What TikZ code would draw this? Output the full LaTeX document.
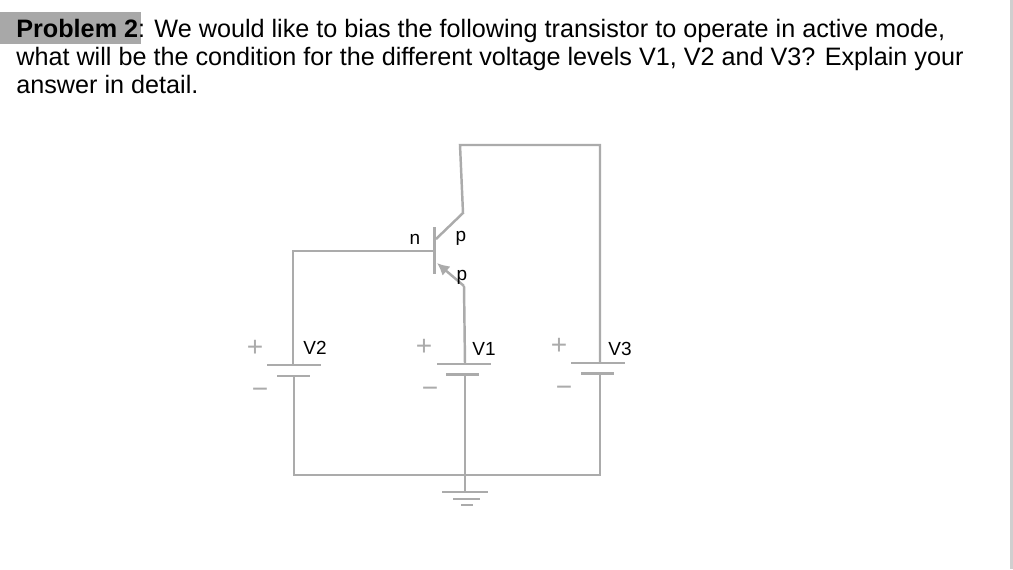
\documentclass[tikz,border=0pt]{standalone}
\usepackage{fontspec}
\usetikzlibrary{arrows.meta}
\setmainfont{Liberation Sans}
\definecolor{wiregray}{HTML}{ABABAB}
\definecolor{hilitegray}{HTML}{A8A8A8}
\definecolor{railgray}{HTML}{CFCFCF}
\tikzset{
	wire/.style={draw=wiregray,line width=1.4pt},
	prose/.style={anchor=base west,inner sep=0pt,font=\fontsize{14.34}{17}\selectfont},
	lbl/.style={inner sep=0pt,font=\fontsize{10.8}{12}\selectfont},
	pole/.style={inner sep=0pt,text=wiregray,font=\fontsize{16}{18}\selectfont},
}
\begin{document}
\begin{tikzpicture}[x=0.02cm,y=-0.02cm]
	\useasboundingbox (0,0) rectangle (1013,569);
	\node[fill=hilitegray,inner sep=0pt,minimum width=2.82cm,minimum height=0.64cm] (hilite) at (70.5,28) {};
	\draw[draw=railgray,line width=1.4pt] (1011.5,0) -- (1011.5,569);

	\node[prose] (line1) at (16,37) {\textbf{Problem 2}: We would like to bias the following transistor to operate in active mode,};
	\node[prose] (line2) at (16,65) {what will be the condition for the different voltage levels V1, V2 and V3? Explain your};
	\node[prose] (line3) at (16,93) {answer in detail.};

	% transistor
	\coordinate (bartop) at (434.5,227);
	\coordinate (barbot) at (434.5,274);
	\coordinate (base) at (434.5,251);
	\coordinate (cin) at (436,239);
	\coordinate (cout) at (463,213);
	\coordinate (ctop) at (460,145);
	\coordinate (etip) at (437,263);
	\coordinate (eout) at (464,286);

	% batteries
	\coordinate (v2a) at (267,365);
	\coordinate (v2b) at (321,365);
	\coordinate (v2c) at (277,376);
	\coordinate (v2d) at (310,376);
	\coordinate (v2t) at (293,365);
	\coordinate (v2n) at (294,376);
	\coordinate (v1a) at (437,364);
	\coordinate (v1b) at (491,364);
	\coordinate (v1c) at (446,374.5);
	\coordinate (v1d) at (479,374.5);
	\coordinate (v1t) at (465,364);
	\coordinate (v1n) at (465,374.5);
	\coordinate (v3a) at (571,363);
	\coordinate (v3b) at (625,363);
	\coordinate (v3c) at (581,373.5);
	\coordinate (v3d) at (614,373.5);
	\coordinate (v3t) at (600,363);
	\coordinate (v3n) at (600,373.5);

	% ground
	\coordinate (g1) at (465,492);
	\coordinate (g1a) at (442,492);
	\coordinate (g1b) at (488,492);
	\coordinate (g2a) at (453,499);
	\coordinate (g2b) at (480,499);
	\coordinate (g3a) at (461,505);
	\coordinate (g3b) at (473,505);

	\draw[wire] (bartop) -- (barbot);
	\draw[wire] (v2t) -- (293,251) -- (base);
	\draw[wire] (cin) -- (cout) -- (ctop) -- (600,145) -- (v3t);
	\draw[wire,-{Latex[length=7pt,width=7pt]}] (eout) -- (etip);
	\draw[wire] (eout) -- (v1t);

	\draw[wire] (v2a) -- (v2b);
	\draw[wire] (v2c) -- (v2d);
	\draw[wire] (v1a) -- (v1b);
	\draw[wire] (v1c) -- (v1d);
	\draw[wire] (v3a) -- (v3b);
	\draw[wire] (v3c) -- (v3d);

	\draw[wire] (v2n) -- (294,475) -- (600,475) -- (v3n);
	\draw[wire] (v1n) -- (g1);
	\draw[wire] (g1a) -- (g1b);
	\draw[wire] (g2a) -- (g2b);
	\draw[wire] (g3a) -- (g3b);

	\node[lbl] (nlbl) at (415,239) {n};
	\node[lbl] (plbl1) at (461,238) {p};
	\node[lbl] (plbl2) at (462,277) {p};
	\node[lbl] (v2lbl) at (315,348) {V2};
	\node[lbl] (v1lbl) at (484,349) {V1};
	\node[lbl] (v3lbl) at (620,349) {V3};

	\node[pole] (plus2) at (255,348) {+};
	\node[pole] (plus1) at (424,347) {+};
	\node[pole] (plus3) at (559,346) {+};
	\node[pole] (minus2) at (260,393) {−};
	\node[pole] (minus1) at (430,392) {−};
	\node[pole] (minus3) at (564,391) {−};
\end{tikzpicture}
\end{document}
